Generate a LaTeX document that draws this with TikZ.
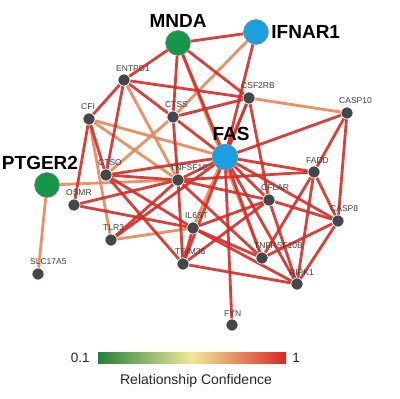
\documentclass[tikz,border=0pt]{standalone}
\usepackage{fontspec}
\setmainfont{Liberation Sans}
\usetikzlibrary{backgrounds}

\definecolor{hired}{RGB}{214,44,38}
\definecolor{lored}{RGB}{234,132,88}
\definecolor{genegray}{RGB}{68,72,74}
\definecolor{seedgreen}{RGB}{22,150,72}
\definecolor{seedblue}{RGB}{26,160,222}
\definecolor{bargreen}{RGB}{38,128,60}
\definecolor{baryellow}{RGB}{240,232,152}
\definecolor{barred}{RGB}{216,40,40}
\pgfdeclarehorizontalshading{confbar}{100bp}{color(0bp)=(bargreen); color(25bp)=(bargreen); color(50bp)=(baryellow); color(75bp)=(barred); color(100bp)=(barred)}

\tikzset{
  gene/.style={circle,fill=genegray,draw=white,line width=.6pt,minimum size=12pt,inner sep=0pt},
  seed/.style={circle,draw=black!45,line width=.5pt,minimum size=25pt,inner sep=0pt},
  glabel/.style={font=\fontsize{8.5}{9}\selectfont,text=black!75,inner sep=0pt,anchor=south west,xshift=-8pt},
  slabel/.style={font=\fontsize{19}{20}\selectfont\bfseries,inner sep=0pt},
  hi/.style={hired,line width=2.8pt,opacity=.9},
  lo/.style={lored,line width=2.8pt,opacity=.9},
  leg/.style={font=\fontsize{13.5}{15}\selectfont,text=black!85,inner sep=0pt}
}

\begin{document}
\begin{tikzpicture}[x=1pt,y=-1pt,label distance=2.5pt]
\useasboundingbox (0,0) rectangle (400,399);

% seed genes
\node[seed,fill=seedgreen,label distance=5pt,label={[slabel]above:MNDA}] (MNDA) at (178,43) {};
\node[seed,fill=seedblue,label distance=5pt,label={[slabel]right:IFNAR1}] (IFNAR1) at (256,32) {};
\node[seed,fill=seedgreen,label distance=7pt,label={[slabel,xshift=-7pt]above:PTGER2}] (PTGER2) at (47,185) {};
\node[seed,fill=seedblue,minimum size=26pt,label distance=1pt,label={[slabel,xshift=6pt]above:FAS}] (FAS) at (225,157) {};

% network genes
\foreach \nm/\px/\py in {ENTPD1/124/80, CFI/89/119, CTSS/173/117, CSF2RB/249/98,
  CASP10/347/113, CTSO/106/175, TNFSF10/178/180, OSMR/74/205, FADD/314/172,
  CFLAR/269/200, CASP8/338/221, IL6ST/193/228, TLR3/111/240, TNFRSF10B/262/258,
  TRIM38/183/264, RIPK1/297/284, SLC17A5/38/274, FYN/232/325}
  \node[gene,label={[glabel]above:\nm}] (\nm) at (\px,\py) {};

% relations
\begin{scope}[on background layer]
\fill[white] (0,0) rectangle (400,399);
\foreach \a/\b in {IFNAR1/CTSS, CSF2RB/CASP10, CSF2RB/IL6ST, ENTPD1/TNFSF10,
  CFI/TLR3, CFI/TNFSF10, CFI/FAS, CTSS/CTSO, PTGER2/TNFSF10, PTGER2/SLC17A5,
  TLR3/IL6ST, MNDA/TNFRSF10B}
  \draw[lo] (\a) -- (\b);
\foreach \a/\b in {MNDA/IFNAR1, MNDA/ENTPD1, MNDA/CTSS, MNDA/CSF2RB, MNDA/FAS,
  IFNAR1/FAS, ENTPD1/CSF2RB, ENTPD1/CTSS, ENTPD1/CTSO, ENTPD1/CFI,
  CFI/CTSO, CFI/OSMR, CTSS/CSF2RB, CTSS/FAS, CTSS/TNFSF10,
  CSF2RB/FAS, CSF2RB/CFLAR, CASP10/FAS, CASP10/FADD, CASP10/CASP8,
  FAS/TNFSF10, FAS/CTSO, FAS/FADD, FAS/CFLAR, FAS/CASP8, FAS/RIPK1,
  FAS/TNFRSF10B, FAS/FYN, FAS/TLR3, FAS/TRIM38,
  CTSO/TNFSF10, CTSO/IL6ST, CTSO/TRIM38, OSMR/TNFSF10, OSMR/IL6ST,
  TLR3/TNFSF10, TNFSF10/TRIM38, TNFSF10/CFLAR, TNFSF10/TNFRSF10B, TNFSF10/FADD,
  IL6ST/TRIM38, IL6ST/CFLAR, IL6ST/RIPK1, IL6ST/TNFRSF10B, TRIM38/RIPK1,
  TRIM38/CFLAR, CFLAR/CASP8, CFLAR/RIPK1, FADD/CASP8, FADD/RIPK1,
  FADD/TNFRSF10B, CASP8/RIPK1, CASP8/TNFRSF10B}
  \draw[hi] (\a) -- (\b);
\end{scope}

% legend
\node[minimum width=188pt,minimum height=11pt,inner sep=0pt,shading=confbar] (bar) at (192,357.5) {};
\node[leg,anchor=east] (lowend) at ([xshift=-8pt]bar.west) {0.1};
\node[leg,anchor=west] (highend) at ([xshift=6pt]bar.east) {1};
\node[leg,font=\fontsize{14}{16}\selectfont] (legtitle) at (196,381) {Relationship Confidence};
\end{tikzpicture}
\end{document}
